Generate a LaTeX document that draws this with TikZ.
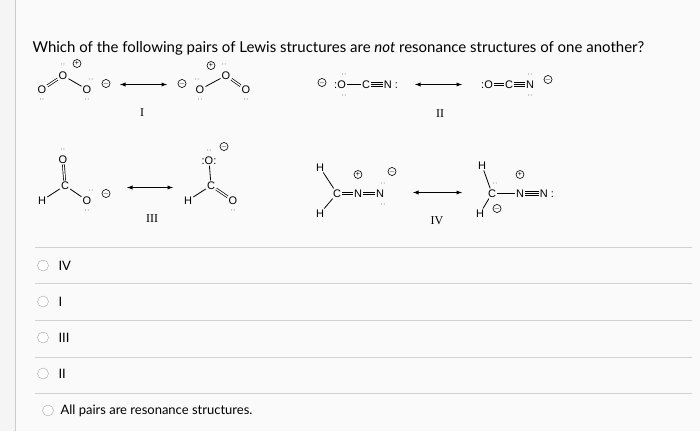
\documentclass[tikz,border=0pt]{standalone}
\usepackage{fontspec}
\setmainfont{Lato}
\newfontfamily\molf{Liberation Sans}
\newfontfamily\romf{Liberation Serif}
\begin{document}
\begin{tikzpicture}[x=1pt,y=-1pt,
  atm/.style={font=\molf\fontsize{11}{11}\selectfont,inner sep=1pt},
  dts/.style={font=\molf\bfseries\fontsize{8}{8}\selectfont,inner sep=0pt},
  chg/.style={circle,draw,line width=0.6pt,inner sep=0pt,minimum size=8pt,font=\molf\fontsize{7}{7}\selectfont},
  rom/.style={font=\romf\fontsize{12}{12}\selectfont},
  bd/.style={line width=0.8pt},
  dbd/.style={line width=0.7pt,double,double distance=1.3pt},
  rarrow/.style={<->,>=latex,line width=0.9pt},
  opt/.style={font=\fontsize{13}{13}\selectfont,anchor=west},
  radio/.style={circle,draw=gray!70,fill=white,minimum size=11pt,inner sep=0pt},
  sep/.style={draw=gray!35,line width=0.8pt}]
\fill[gray!8] (0,0) rectangle (700,430);
\fill[gray!4] (15,0) rectangle (700,430);
\draw[gray!40,line width=1pt] (15,0) -- (15,430);
\useasboundingbox (0,0) rectangle (700,430);
\node[anchor=west,font=\fontsize{15}{16}\selectfont] (title) at (29,48) {Which of the following pairs of Lewis structures are \textit{not} resonance structures of one another?};
% I left
\node[atm] (o1) at (42,89) {O}; \node[atm] (o2) at (63,75) {O}; \node[atm] (o3) at (87,89) {O};
\draw[dbd] (o1) -- (o2); \draw[bd] (o2) -- (o3);
\node[chg] (c1) at (77,63) {+}; \node[chg] (c2) at (106,83) {$-$};
\node[dts] (d1) at (63,64) {$\cdot\cdot$};
\node[dts] (d2) at (42,99) {$\cdot\cdot$};
\node[dts] (d3) at (87,99) {$\cdot\cdot$};
\node[dts] (d4) at (91,79) {$\cdot\cdot$};
\node (a1l) at (120,84) {}; \node (a1r) at (167,84) {};
\draw[rarrow] (a1l.center) -- (a1r.center);
% I right
\node[chg] (c3) at (182,83) {$-$};
\node[atm] (o4) at (200,89) {O}; \node[atm] (o5) at (226,75) {O}; \node[atm] (o6) at (246,89) {O};
\draw[bd] (o4) -- (o5); \draw[dbd] (o5) -- (o6);
\node[chg] (c4) at (211,65) {+};
\node[dts] (d5) at (224,64) {$\cdot\cdot$};
\node[dts] (d6) at (200,99) {$\cdot\cdot$};
\node[dts] (d7) at (246,99) {$\cdot\cdot$};
\node[dts] (d8) at (197,79) {$\cdot\cdot$};
\node[rom] (l1) at (142,112) {I};
% II
\node[chg] (c5) at (322,82) {$-$};
\node[atm] (o7) at (340,84) {:O}; \node[atm] (cc1) at (366,84) {C}; \node[atm] (n1) at (391,84) {N :};
\draw[bd] (o7) -- (cc1);
\draw[bd] ([yshift=-2.2pt]cc1.east) -- ([yshift=-2.2pt]n1.west);
\draw[bd] (cc1.east) -- (n1.west);
\draw[bd] ([yshift=2.2pt]cc1.east) -- ([yshift=2.2pt]n1.west);
\node[dts] (d9) at (344,74) {$\cdot\cdot$};
\node[dts] (d10) at (344,95) {$\cdot\cdot$};
\node (a2l) at (415,84) {}; \node (a2r) at (462,84) {};
\draw[rarrow] (a2l.center) -- (a2r.center);
\node[atm] (o8) at (487,84) {:O}; \node[atm] (cc2) at (509,84) {C}; \node[atm] (n2) at (530,84) {N};
\draw[dbd] (o8) -- (cc2);
\draw[bd] ([yshift=-2.2pt]cc2.east) -- ([yshift=-2.2pt]n2.west);
\draw[bd] (cc2.east) -- (n2.west);
\draw[bd] ([yshift=2.2pt]cc2.east) -- ([yshift=2.2pt]n2.west);
\node[dts] (d11) at (530,74) {$\cdot\cdot$};
\node[dts] (d12) at (530,95) {$\cdot\cdot$};
\node[chg] (c6) at (548,79) {$-$};
\node[rom] (l2) at (440,113) {II};
% III left
\node[atm] (o9) at (63,159) {O}; \node[atm] (cc3) at (65,185) {C}; \node[atm] (h1) at (42,200) {H}; \node[atm] (o10) at (87,200) {O};
\draw[dbd] (o9) -- (cc3); \draw[bd] (cc3) -- (h1); \draw[bd] (cc3) -- (o10);
\node[chg] (c7) at (106,193) {$-$};
\node[dts] (d13) at (63,149) {$\cdot\cdot$};
\node[dts] (d14) at (87,210) {$\cdot\cdot$};
\node[dts] (d15) at (91,190) {$\cdot\cdot$};
\node (a3l) at (127,187) {}; \node (a3r) at (173,187) {};
\draw[rarrow] (a3l.center) -- (a3r.center);
\node[rom] (l3) at (152,218) {III};
% III right
\node[atm] (o11) at (209,160) {:O:}; \node[chg] (c8) at (224,146) {$-$};
\node[atm] (cc4) at (211,185) {C}; \node[atm] (h2) at (188,200) {H}; \node[atm] (o12) at (233,200) {O};
\draw[bd] (o11) -- (cc4); \draw[bd] (cc4) -- (h2); \draw[dbd] (cc4) -- (o12);
\node[dts] (d16) at (209,150) {$\cdot\cdot$};
\node[dts] (d17) at (233,210) {$\cdot\cdot$};
% IV left
\node[atm] (h3) at (320,167) {H}; \node[atm] (cc5) at (337,193) {C}; \node[atm] (h4) at (320,213) {H};
\node[atm] (n3) at (358,193) {N}; \node[atm] (n4) at (380,193) {N};
\draw[bd] (h3) -- (cc5); \draw[bd] (h4) -- (cc5);
\draw[dbd] (cc5) -- (n3); \draw[dbd] (n3) -- (n4);
\node[chg] (c9) at (358,174) {+}; \node[chg] (c10) at (392,171) {$-$};
\node[dts] (d18) at (383,183) {$\cdot\cdot$};
\node[dts] (d19) at (383,204) {$\cdot\cdot$};
\node (a4l) at (413,192) {}; \node (a4r) at (462,192) {};
\draw[rarrow] (a4l.center) -- (a4r.center);
\node[rom] (l4) at (437,220) {IV};
% IV right
\node[atm] (h5) at (482,165) {H}; \node[atm] (cc6) at (492,193) {C}; \node[atm] (h6) at (480,213) {H};
\node[atm] (n5) at (520,193) {N}; \node[atm] (n6) at (547,193) {N :};
\draw[bd] (h5) -- (cc6); \draw[bd] (h6) -- (cc6); \draw[bd] (cc6) -- (n5);
\draw[bd] ([yshift=-2.2pt]n5.east) -- ([yshift=-2.2pt]n6.west);
\draw[bd] (n5.east) -- (n6.west);
\draw[bd] ([yshift=2.2pt]n5.east) -- ([yshift=2.2pt]n6.west);
\node[dts] (d20) at (495,183) {$\cdot\cdot$};
\node[chg] (c11) at (520,174) {+}; \node[chg] (c12) at (497,208) {$-$};
% options
\foreach \yy in {247,283,320,357,393} \draw[sep] (35,\yy) -- (692,\yy);
\node[radio] (r1) at (43,265) {}; \node[opt] (t1) at (55,265) {IV};
\node[radio] (r2) at (43,301) {}; \node[opt] (t2) at (55,301) {I};
\node[radio] (r3) at (43,337) {}; \node[opt] (t3) at (55,337) {III};
\node[radio] (r4) at (43,373) {}; \node[opt] (t4) at (55,373) {II};
\node[radio] (r5) at (48,410) {}; \node[opt] (t5) at (57,410) {All pairs are resonance structures.};
\end{tikzpicture}
\end{document}
